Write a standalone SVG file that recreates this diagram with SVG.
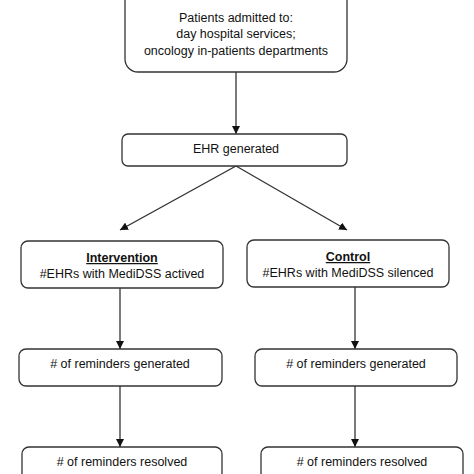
<svg xmlns="http://www.w3.org/2000/svg" width="474" height="474" viewBox="0 0 474 474">
<style>
.box{fill:#fff;stroke:#333;stroke-width:1.3}
.t{font-family:"Liberation Sans",Arial,sans-serif;font-size:12.5px;fill:#111;text-anchor:middle}
.b{font-weight:bold;text-decoration:underline}
.c{stroke:#333;stroke-width:1.3;fill:none;marker-end:url(#ah)}
</style>
<defs>
<marker id="ah" viewBox="0 0 10 10" refX="10" refY="5" markerWidth="8" markerHeight="8" markerUnits="userSpaceOnUse" orient="auto">
<path d="M0,0 L10,5 L0,10 z" fill="#111"/>
</marker>
</defs>
<rect width="474" height="474" fill="#fff"/>
<g id="connectors">
<line class="c" x1="236" y1="72" x2="236" y2="134"/>
<line class="c" x1="236" y1="166" x2="120" y2="230"/>
<line class="c" x1="236" y1="166" x2="347" y2="230"/>
<line class="c" x1="120" y1="288" x2="120" y2="349"/>
<line class="c" x1="355" y1="287" x2="355" y2="349"/>
<line class="c" x1="120" y1="386" x2="120" y2="447"/>
<line class="c" x1="355" y1="386" x2="355" y2="447"/>
</g>
<g id="patients">
<rect class="box" x="125" y="-14" width="222" height="86" rx="13"/>
<text class="t" x="236" y="22">Patients admitted to:</text>
<text class="t" x="236" y="38">day hospital services;</text>
<text class="t" x="236" y="55">oncology in-patients departments</text>
</g>
<g id="ehr">
<rect class="box" x="122" y="134" width="225" height="32" rx="6"/>
<text class="t" x="236" y="153">EHR generated</text>
</g>
<g id="intervention">
<rect class="box" x="21" y="241" width="202" height="47" rx="7"/>
<text class="t b" x="122" y="262">Intervention</text>
<text class="t" x="122" y="278">#EHRs with MediDSS actived</text>
</g>
<g id="control">
<rect class="box" x="247" y="240" width="202" height="47" rx="7"/>
<text class="t b" x="348" y="261">Control</text>
<text class="t" x="348" y="277">#EHRs with MediDSS silenced</text>
</g>
<g id="gen-left">
<rect class="box" x="19" y="349" width="203" height="37" rx="7"/>
<text class="t" x="120" y="368"># of reminders generated</text>
</g>
<g id="gen-right">
<rect class="box" x="255" y="349" width="202" height="37" rx="7"/>
<text class="t" x="356" y="368"># of reminders generated</text>
</g>
<g id="res-left">
<rect class="box" x="22" y="447" width="200" height="40" rx="7"/>
<text class="t" x="122" y="466"># of reminders resolved</text>
</g>
<g id="res-right">
<rect class="box" x="261" y="447" width="202" height="40" rx="7"/>
<text class="t" x="362" y="466"># of reminders resolved</text>
</g>
</svg>
